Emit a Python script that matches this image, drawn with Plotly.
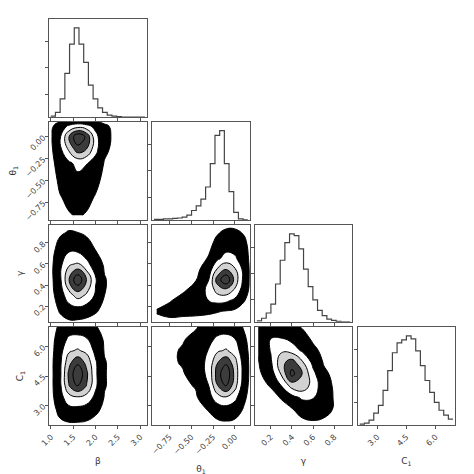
import numpy as np
import plotly.graph_objects as go

# --- 1D marginals (relative bin heights, 20 bins each) ---
beta_range   = [0.95, 3.15]
theta_range  = [-0.95, 0.17]
gamma_range  = [0.05, 0.97]
c1_range     = [2.0, 7.0]

beta_hist  = [0.01, 0.05, 0.2, 0.48, 0.8, 0.98, 0.8, 0.6, 0.35, 0.2, 0.1, 0.05, 0.02, 0.01, 0.005, 0, 0, 0, 0, 0]
theta_hist = [0.005, 0.005, 0.01, 0.01, 0.015, 0.02, 0.03, 0.05, 0.1, 0.15, 0.22, 0.35, 0.6, 0.9, 0.95, 0.6, 0.3, 0.08, 0.01, 0]
gamma_hist = [0.01, 0.04, 0.1, 0.2, 0.43, 0.7, 0.9, 1.0, 0.98, 0.83, 0.6, 0.4, 0.25, 0.13, 0.07, 0.03, 0.015, 0.005, 0, 0]
c1_hist    = [0.01, 0.02, 0.05, 0.12, 0.2, 0.35, 0.55, 0.73, 0.83, 0.86, 0.9, 0.87, 0.75, 0.6, 0.45, 0.33, 0.23, 0.15, 0.1, 0.06]

# --- 2D densities (relative) ---
beta_grid_x  = [1.0, 1.2, 1.4, 1.6, 1.8, 2.0, 2.2, 2.4, 2.6]
theta_grid_x = [-0.9, -0.75, -0.6, -0.45, -0.3, -0.2, -0.1, 0.0, 0.1, 0.17]
gamma_grid_x = [0.08, 0.2, 0.3, 0.4, 0.5, 0.6, 0.7, 0.8, 0.95]
theta_grid_y = [-0.9, -0.7, -0.5, -0.3, -0.15, 0.0, 0.12, 0.2]
gamma_grid_y = [0.05, 0.15, 0.3, 0.45, 0.6, 0.75, 0.9, 0.97]
gamma_grid_y2 = [0.08, 0.15, 0.25, 0.35, 0.45, 0.55, 0.65, 0.8, 0.95]
c1_grid_y    = [2.1, 2.8, 3.4, 4.0, 4.6, 5.2, 5.8, 6.4, 7.0]

z_beta_theta = [
    [0, 0.04, 0.06, 0.08, 0.06, 0.04, 0, 0, 0],
    [0, 0.06, 0.1, 0.12, 0.1, 0.06, 0.03, 0, 0],
    [0, 0.1, 0.15, 0.2, 0.17, 0.1, 0.04, 0, 0],
    [0.02, 0.15, 0.22, 0.3, 0.26, 0.18, 0.06, 0.02, 0],
    [0.04, 0.2, 0.45, 0.7, 0.6, 0.3, 0.1, 0.04, 0],
    [0.05, 0.22, 0.6, 0.95, 0.75, 0.3, 0.12, 0.05, 0.02],
    [0.04, 0.15, 0.28, 0.35, 0.3, 0.2, 0.1, 0.04, 0],
    [0, 0.02, 0.04, 0.05, 0.04, 0.03, 0, 0, 0],
]
z_beta_gamma = [
    [0, 0.03, 0.05, 0.05, 0.04, 0.03, 0, 0, 0],
    [0, 0.08, 0.15, 0.15, 0.12, 0.08, 0.04, 0, 0],
    [0.02, 0.15, 0.35, 0.5, 0.4, 0.22, 0.07, 0.03, 0],
    [0.03, 0.2, 0.6, 0.95, 0.6, 0.27, 0.08, 0.03, 0.02],
    [0.03, 0.2, 0.4, 0.45, 0.3, 0.15, 0.05, 0.02, 0],
    [0.02, 0.12, 0.2, 0.18, 0.12, 0.06, 0.03, 0, 0],
    [0, 0.05, 0.08, 0.07, 0.05, 0.03, 0, 0, 0],
    [0, 0.03, 0.04, 0.04, 0.03, 0, 0, 0, 0],
]
z_beta_c1 = [
    [0, 0.04, 0.06, 0.06, 0.05, 0.03, 0, 0, 0],
    [0, 0.12, 0.2, 0.2, 0.17, 0.1, 0.04, 0, 0],
    [0.02, 0.18, 0.35, 0.4, 0.35, 0.2, 0.06, 0.02, 0],
    [0.03, 0.2, 0.6, 0.8, 0.6, 0.28, 0.08, 0.03, 0],
    [0.03, 0.2, 0.65, 0.95, 0.65, 0.28, 0.08, 0.03, 0.02],
    [0.03, 0.2, 0.55, 0.75, 0.55, 0.27, 0.08, 0.03, 0],
    [0.02, 0.18, 0.4, 0.45, 0.38, 0.2, 0.06, 0.02, 0],
    [0.02, 0.14, 0.28, 0.3, 0.26, 0.15, 0.05, 0.02, 0],
    [0, 0.1, 0.15, 0.15, 0.12, 0.08, 0.03, 0, 0],
]
z_theta_gamma = [
    [0.05, 0.06, 0.05, 0.04, 0.03, 0.02, 0.02, 0, 0, 0],
    [0.08, 0.12, 0.12, 0.12, 0.1, 0.08, 0.06, 0.04, 0.02, 0],
    [0.02, 0.06, 0.12, 0.2, 0.25, 0.3, 0.28, 0.2, 0.08, 0.03],
    [0, 0.02, 0.05, 0.12, 0.3, 0.5, 0.55, 0.4, 0.15, 0.05],
    [0, 0, 0.02, 0.06, 0.25, 0.7, 0.95, 0.55, 0.2, 0.06],
    [0, 0, 0, 0.03, 0.15, 0.45, 0.6, 0.45, 0.2, 0.06],
    [0, 0, 0, 0.02, 0.08, 0.22, 0.32, 0.28, 0.15, 0.05],
    [0, 0, 0, 0, 0.04, 0.1, 0.15, 0.15, 0.1, 0.04],
    [0, 0, 0, 0, 0.02, 0.04, 0.06, 0.06, 0.04, 0.02],
]
z_theta_c1 = [
    [0, 0, 0, 0, 0.02, 0.04, 0.05, 0.04, 0.02, 0],
    [0, 0, 0, 0.02, 0.08, 0.15, 0.18, 0.14, 0.06, 0.02],
    [0, 0, 0.02, 0.05, 0.18, 0.35, 0.4, 0.3, 0.1, 0.03],
    [0.02, 0.02, 0.04, 0.08, 0.25, 0.6, 0.8, 0.5, 0.15, 0.04],
    [0.03, 0.04, 0.06, 0.12, 0.3, 0.7, 0.95, 0.55, 0.18, 0.05],
    [0.04, 0.05, 0.08, 0.14, 0.3, 0.6, 0.75, 0.5, 0.17, 0.05],
    [0.04, 0.05, 0.08, 0.14, 0.26, 0.4, 0.45, 0.35, 0.14, 0.04],
    [0.03, 0.04, 0.06, 0.1, 0.2, 0.28, 0.3, 0.25, 0.1, 0.03],
    [0.02, 0.03, 0.04, 0.06, 0.12, 0.16, 0.17, 0.14, 0.06, 0.02],
]
z_gamma_c1 = [
    [0, 0, 0, 0.02, 0.04, 0.05, 0.04, 0.02, 0],
    [0, 0, 0.02, 0.06, 0.12, 0.15, 0.12, 0.06, 0.02],
    [0, 0.02, 0.08, 0.18, 0.28, 0.26, 0.15, 0.06, 0.02],
    [0.02, 0.08, 0.25, 0.5, 0.55, 0.35, 0.15, 0.05, 0.02],
    [0.04, 0.15, 0.45, 0.85, 0.6, 0.3, 0.1, 0.04, 0],
    [0.06, 0.22, 0.55, 0.7, 0.45, 0.2, 0.06, 0.02, 0],
    [0.08, 0.26, 0.4, 0.35, 0.22, 0.1, 0.04, 0, 0],
    [0.1, 0.25, 0.26, 0.2, 0.12, 0.05, 0.02, 0, 0],
    [0.08, 0.15, 0.14, 0.1, 0.06, 0.03, 0, 0, 0],
]

labels = ['β', 'θ<sub>1</sub>', 'γ', 'C<sub>1</sub>']
ranges = [beta_range, theta_range, gamma_range, c1_range]
hists  = [beta_hist, theta_hist, gamma_hist, c1_hist]
ticks  = [[1.0, 1.5, 2.0, 2.5, 3.0], [-0.75, -0.5, -0.25, 0.0], [0.2, 0.4, 0.6, 0.8], [3.0, 4.5, 6.0]]
tick_text = [['1.0', '1.5', '2.0', '2.5', '3.0'], ['−0.75', '−0.50', '−0.25', '0.00'],
             ['0.2', '0.4', '0.6', '0.8'], ['3.0', '4.5', '6.0']]

panels_2d = {
    (1, 0): (beta_grid_x, theta_grid_y, z_beta_theta),
    (2, 0): (beta_grid_x, gamma_grid_y, z_beta_gamma),
    (3, 0): (beta_grid_x, c1_grid_y, z_beta_c1),
    (2, 1): (theta_grid_x, gamma_grid_y2, z_theta_gamma),
    (3, 1): (theta_grid_x, c1_grid_y, z_theta_c1),
    (3, 2): (gamma_grid_x, c1_grid_y, z_gamma_c1),
}

# panel domains in paper coords; page body adds 8px, so shift up-left
x_dom = [[0.086, 0.293], [0.304, 0.510], [0.521, 0.726], [0.738, 0.943]]
y_dom = [[0.770, 0.977], [0.553, 0.760], [0.338, 0.542], [0.120, 0.327]]

band_scale = [
    [0.0, 'white'], [0.07, 'white'],
    [0.07, 'black'], [0.25, 'black'],
    [0.25, 'white'], [0.43, 'white'],
    [0.43, '#d2d2d2'], [0.61, '#d2d2d2'],
    [0.61, '#8c8c8c'], [0.79, '#8c8c8c'],
    [0.79, '#3c3c3c'], [1.0, '#3c3c3c'],
]

fig = go.Figure()
axis_style = dict(showline=True, mirror=True, linecolor='#555555', linewidth=1, automargin=False,
                  ticks='outside', ticklen=3, tickcolor='#555555', showgrid=False,
                  zeroline=False, tickfont=dict(size=8, color='#444444'), tickangle=-45)

n = 0
for row in range(4):
    for col in range(row + 1):
        n += 1
        xa = 'x' if n == 1 else f'x{n}'
        ya = 'y' if n == 1 else f'y{n}'
        if row == col:
            h = hists[col]
            edges = np.linspace(ranges[col][0] + 0.02 * (ranges[col][1] - ranges[col][0]),
                                ranges[col][1] - 0.02 * (ranges[col][1] - ranges[col][0]), len(h) + 1)
            fig.add_trace(go.Scatter(x=edges, y=list(h) + [h[-1]], mode='lines', line_shape='hv',
                                     line=dict(color='#444444', width=1.2), xaxis=xa, yaxis=ya,
                                     hoverinfo='skip'))
            yr = [0, max(h) * 1.1]
        else:
            gx, gy, z = panels_2d[(row, col)]
            fig.add_trace(go.Contour(x=gx, y=gy, z=z, zmin=0, zmax=1, colorscale=band_scale,
                                     showscale=False, contours=dict(start=0.07, end=0.79, size=0.18),
                                     line=dict(color='black', width=1, smoothing=1.3),
                                     xaxis=xa, yaxis=ya, hoverinfo='skip'))
            yr = ranges[row]
        xkey = 'xaxis' if n == 1 else f'xaxis{n}'
        ykey = 'yaxis' if n == 1 else f'yaxis{n}'
        xs = dict(axis_style, domain=x_dom[col], anchor=ya, range=ranges[col],
                  tickvals=ticks[col], ticktext=tick_text[col], showticklabels=(row == 3))
        if row == 3:
            xs['title'] = dict(text=labels[col], font=dict(size=9, color='#333333'), standoff=10)
        ys = dict(axis_style, domain=y_dom[row], anchor=xa, range=yr, showticklabels=(col == 0 and row != 0))
        if row == col:
            ys['tickvals'] = [max(hists[col]) * f for f in (0.25, 0.55, 0.85)]
        else:
            ys['tickvals'] = ticks[row]
            ys['ticktext'] = tick_text[row]
        if col == 0 and row != 0:
            ys['title'] = dict(text=labels[row], font=dict(size=9, color='#333333'), standoff=6)
        fig.update_layout({xkey: xs, ykey: ys})

fig.update_layout(width=474, height=474, showlegend=False, paper_bgcolor='white', plot_bgcolor='white',
                  margin=dict(l=0, r=0, t=0, b=0), font=dict(family='DejaVu Sans'))
fig.write_html("out.html")
